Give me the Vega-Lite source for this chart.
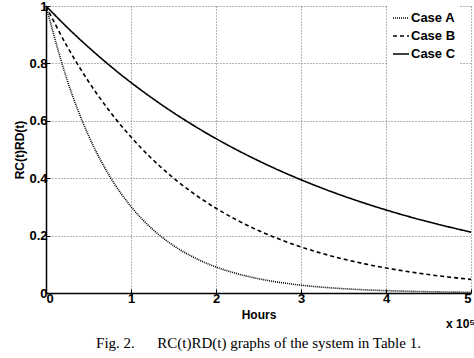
{
  "$schema": "https://vega.github.io/schema/vega-lite/v6.json",
  "autosize": {"type": "none"},
  "width": 425,
  "height": 287,
  "padding": {"left": 46, "top": 6, "right": 3, "bottom": 65},
  "background": "white",
  "config": {
    "view": {"stroke": null},
    "font": "Liberation Sans",
    "axis": {
      "domainColor": "black",
      "domainWidth": 1.5,
      "tickColor": "black",
      "tickSize": -4,
      "labelFont": "Liberation Sans",
      "labelFontWeight": "bold",
      "labelFontSize": 13,
      "labelColor": "black",
      "titleFont": "Liberation Sans",
      "titleFontWeight": "bold",
      "titleFontSize": 12,
      "titleColor": "black",
      "gridColor": "#444",
      "gridDash": [1, 2],
      "gridWidth": 0.8
    }
  },
  "title": {
    "text": "Fig. 2.\u00a0\u00a0\u00a0\u00a0\u00a0\u00a0RC(t)RD(t) graphs of the system in Table 1.",
    "orient": "bottom",
    "font": "Liberation Serif",
    "fontSize": 15,
    "fontWeight": "normal",
    "color": "black",
    "offset": 6
  },
  "data": {
    "values": [
      {"t": 0, "case": "Case A", "r": 1}, {"t": 0.25, "case": "Case A", "r": 0.7408}, {"t": 0.5, "case": "Case A", "r": 0.5488}, {"t": 0.75, "case": "Case A", "r": 0.4066}, {"t": 1, "case": "Case A", "r": 0.3012}, {"t": 1.25, "case": "Case A", "r": 0.2231}, {"t": 1.5, "case": "Case A", "r": 0.1653}, {"t": 1.75, "case": "Case A", "r": 0.1225}, {"t": 2, "case": "Case A", "r": 0.0907}, {"t": 2.25, "case": "Case A", "r": 0.0672}, {"t": 2.5, "case": "Case A", "r": 0.0498}, {"t": 2.75, "case": "Case A", "r": 0.0369}, {"t": 3, "case": "Case A", "r": 0.0273}, {"t": 3.25, "case": "Case A", "r": 0.0202}, {"t": 3.5, "case": "Case A", "r": 0.015}, {"t": 3.75, "case": "Case A", "r": 0.0111}, {"t": 4, "case": "Case A", "r": 0.0082}, {"t": 4.25, "case": "Case A", "r": 0.0061}, {"t": 4.5, "case": "Case A", "r": 0.0045}, {"t": 4.75, "case": "Case A", "r": 0.0033}, {"t": 5, "case": "Case A", "r": 0.0025},
      {"t": 0, "case": "Case B", "r": 1}, {"t": 0.25, "case": "Case B", "r": 0.8586}, {"t": 0.5, "case": "Case B", "r": 0.7371}, {"t": 0.75, "case": "Case B", "r": 0.6329}, {"t": 1, "case": "Case B", "r": 0.5434}, {"t": 1.25, "case": "Case B", "r": 0.4665}, {"t": 1.5, "case": "Case B", "r": 0.4005}, {"t": 1.75, "case": "Case B", "r": 0.3439}, {"t": 2, "case": "Case B", "r": 0.2952}, {"t": 2.25, "case": "Case B", "r": 0.2535}, {"t": 2.5, "case": "Case B", "r": 0.2176}, {"t": 2.75, "case": "Case B", "r": 0.1869}, {"t": 3, "case": "Case B", "r": 0.1604}, {"t": 3.25, "case": "Case B", "r": 0.1377}, {"t": 3.5, "case": "Case B", "r": 0.1182}, {"t": 3.75, "case": "Case B", "r": 0.1015}, {"t": 4, "case": "Case B", "r": 0.0872}, {"t": 4.25, "case": "Case B", "r": 0.0748}, {"t": 4.5, "case": "Case B", "r": 0.0642}, {"t": 4.75, "case": "Case B", "r": 0.0551}, {"t": 5, "case": "Case B", "r": 0.0474},
      {"t": 0, "case": "Case C", "r": 1}, {"t": 0.25, "case": "Case C", "r": 0.9254}, {"t": 0.5, "case": "Case C", "r": 0.8564}, {"t": 0.75, "case": "Case C", "r": 0.7925}, {"t": 1, "case": "Case C", "r": 0.7334}, {"t": 1.25, "case": "Case C", "r": 0.6787}, {"t": 1.5, "case": "Case C", "r": 0.6281}, {"t": 1.75, "case": "Case C", "r": 0.5813}, {"t": 2, "case": "Case C", "r": 0.5379}, {"t": 2.25, "case": "Case C", "r": 0.4978}, {"t": 2.5, "case": "Case C", "r": 0.4607}, {"t": 2.75, "case": "Case C", "r": 0.4263}, {"t": 3, "case": "Case C", "r": 0.3946}, {"t": 3.25, "case": "Case C", "r": 0.3651}, {"t": 3.5, "case": "Case C", "r": 0.3379}, {"t": 3.75, "case": "Case C", "r": 0.3127}, {"t": 4, "case": "Case C", "r": 0.2894}, {"t": 4.25, "case": "Case C", "r": 0.2678}, {"t": 4.5, "case": "Case C", "r": 0.2478}, {"t": 4.75, "case": "Case C", "r": 0.2294}, {"t": 5, "case": "Case C", "r": 0.2122}
    ]
  },
  "layer": [
    {
      "mark": {"type": "line", "interpolate": "monotone", "color": "black", "strokeWidth": 1.6},
      "encoding": {
        "x": {
          "field": "t", "type": "quantitative",
          "scale": {"domain": [0, 5], "nice": false},
          "axis": {"values": [0, 1, 2, 3, 4, 5], "format": "d", "title": "Hours", "titlePadding": 4, "labelPadding": 3}
        },
        "y": {
          "field": "r", "type": "quantitative",
          "scale": {"domain": [0, 1], "nice": false},
          "axis": {"values": [0, 0.2, 0.4, 0.6, 0.8, 1], "format": "~g", "title": "RC(t)RD(t)", "titlePadding": 2, "labelPadding": 3}
        },
        "strokeDash": {
          "field": "case", "type": "nominal",
          "scale": {"domain": ["Case A", "Case B", "Case C"], "range": [[1, 1], [4, 3], [1, 0]]},
          "legend": {
            "title": null,
            "orient": "none",
            "legendX": 342,
            "legendY": -1,
            "fillColor": "white",
            "padding": 4,
            "symbolType": "stroke",
            "symbolSize": 256,
            "symbolStrokeColor": "black",
            "symbolStrokeWidth": 1.5,
            "labelFont": "Liberation Sans",
            "labelFontWeight": "bold",
            "labelFontSize": 13,
            "labelColor": "black",
            "rowPadding": 2,
            "labelOffset": 1
          }
        }
      }
    },
    {
      "data": {"values": [{"t": 5, "r": 0, "label": "x 10\u2075"}]},
      "mark": {"type": "text", "font": "Liberation Sans", "fontWeight": "bold", "fontSize": 12, "align": "right", "baseline": "top", "dy": 26, "dx": 4, "color": "black"},
      "encoding": {
        "x": {"field": "t", "type": "quantitative"},
        "y": {"field": "r", "type": "quantitative"},
        "text": {"field": "label"}
      }
    }
  ]
}
